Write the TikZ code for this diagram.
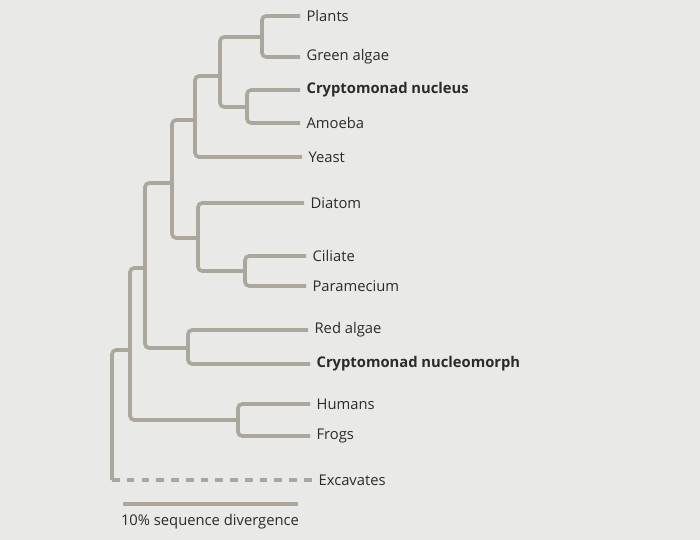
\documentclass[tikz,border=0pt]{standalone}
\usepackage{fontspec}
\setmainfont{Open Sans}
\usepackage{xcolor}
\usepackage{tikz}
\usetikzlibrary{positioning}
\definecolor{branchgray}{HTML}{ABA79C}
\definecolor{paper}{HTML}{E9E9E7}
\definecolor{inkgray}{HTML}{2B2B2B}

\begin{document}
\begin{tikzpicture}[x=0.025cm, y=-0.025cm,
    branch/.style={draw=branchgray, line width=2.6pt, rounded corners=3pt},
    taxon/.style={anchor=west, text=inkgray, inner sep=4.5pt, font=\fontsize{10.5}{12}\selectfont},
    keytaxon/.style={taxon, font=\fontsize{10.5}{12}\selectfont\bfseries}]
    \fill[paper] (0,0) rectangle (700,540);

    % leaves
    \node[taxon] (plants) at (300,16) {Plants};
    \node[taxon] (green) at (300,57) {Green algae};
    \node[keytaxon] (cnuc) at (300,90) {Cryptomonad nucleus};
    \node[taxon] (amoeba) at (300,123) {Amoeba};
    \node[taxon] (yeast) at (302,157) {Yeast};
    \node[taxon] (diatom) at (304,203) {Diatom};
    \node[taxon] (ciliate) at (306,256) {Ciliate};
    \node[taxon] (param) at (306,286) {Paramecium};
    \node[taxon] (red) at (308,330) {Red algae};
    \node[keytaxon] (cmorph) at (310,364) {Cryptomonad nucleomorph};
    \node[taxon] (humans) at (310,404) {Humans};
    \node[taxon] (frogs) at (310,436) {Frogs};
    \node[taxon] (excav) at (312,480) {Excavates};

    % internal nodes
    \coordinate (pg) at (262,37);
    \coordinate (ca) at (247,107);
    \coordinate (n1) at (220,76);
    \coordinate (n2) at (195,120);
    \coordinate (cp) at (245,271);
    \coordinate (n3) at (198,238);
    \coordinate (n4) at (172,183);
    \coordinate (rc) at (188,348);
    \coordinate (n5) at (145,268);
    \coordinate (hf) at (238,420);
    \coordinate (n6) at (130,350);
    \coordinate (root) at (112,350);

    \draw[branch] (plants.west) -| (pg) |- (green.west);
    \draw[branch] (cnuc.west) -| (ca) |- (amoeba.west);
    \draw[branch] (pg) -| (n1) |- (ca);
    \draw[branch] (n1) -| (n2) |- (yeast.west);
    \draw[branch] (ciliate.west) -| (cp) |- (param.west);
    \draw[branch] (diatom.west) -| (n3) |- (cp);
    \draw[branch] (n2) -| (n4) |- (n3);
    \draw[branch] (red.west) -| (rc) |- (cmorph.west);
    \draw[branch] (n4) -| (n5) |- (rc);
    \draw[branch] (humans.west) -| (hf) |- (frogs.west);
    \draw[branch] (n5) -| (n6) |- (hf);
    \draw[branch] (n6) -- (root) -- (root |- excav.west);
    \draw[branch, line width=2.2pt, dash pattern=on 5.5pt off 5pt] (root |- excav.west) -- (excav.west);

    % scale bar
    \coordinate (barL) at (123,504);
    \coordinate (barR) at (298,504);
    \draw[draw=branchgray, line width=2.4pt] (barL) -- (barR);
    \node[text=inkgray, font=\fontsize{10.5}{12}\selectfont] (barlabel) at (210,522) {10\% sequence divergence};
\end{tikzpicture}
\end{document}
